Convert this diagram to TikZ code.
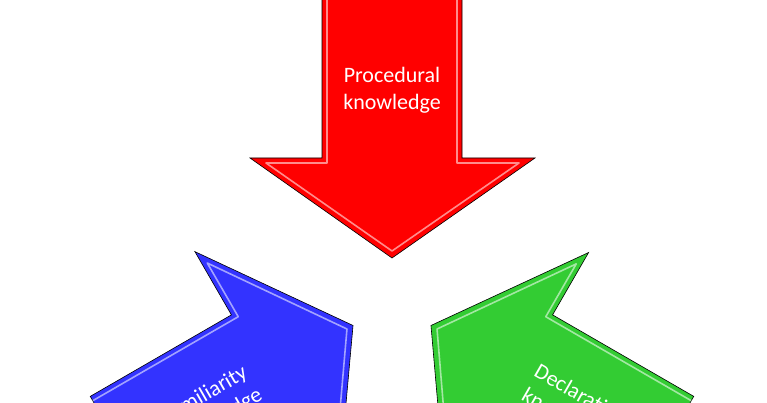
\documentclass[tikz,border=0pt]{standalone}
\usepackage{fontspec}
\setmainfont{Carlito}
\definecolor{rd}{HTML}{FF0000}
\definecolor{bl}{HTML}{3333FF}
\definecolor{gr}{HTML}{33CC33}
\begin{document}
\begin{tikzpicture}[x=1pt,y=1pt,
  arr/.style={draw=black, line width=0.6pt},
  bevel/.style={draw=white, opacity=0.55, line width=1.6pt, line join=round},
  lbl/.style={text=white, font=\fontsize{22}{27}\selectfont, align=center}]
\useasboundingbox (0,0) rectangle (767,-403);
\clip (0,0) rectangle (767,-403);
\def\arrowpath{(322,5) -- (322,-158) -- (250,-158) -- (392,-258) -- (535,-158) -- (462,-158) -- (462,5)}
\def\innerpath{(327,5) -- (327,-163) -- (266,-163) -- (392,-251) -- (519,-163) -- (457,-163) -- (457,5)}
\coordinate (c) at (392,-303);
% red
\fill[rd, arr] \arrowpath -- cycle;
\draw[bevel] \innerpath;
\node[lbl] (p) at (392,-90) {Procedural\\knowledge};
% blue
\begin{scope}[rotate around={120:(c)}]
\fill[bl, arr] \arrowpath -- cycle;
\draw[bevel] \innerpath;
\node[lbl, rotate=30] (f) at (392,-95) {Familiarity\\knowledge};
\end{scope}
% green
\begin{scope}[rotate around={-120:(c)}]
\fill[gr, arr] \arrowpath -- cycle;
\draw[bevel] \innerpath;
\node[lbl, rotate=-30] (d) at (392,-95) {Declarative\\knowledge};
\end{scope}
\end{tikzpicture}
\end{document}
